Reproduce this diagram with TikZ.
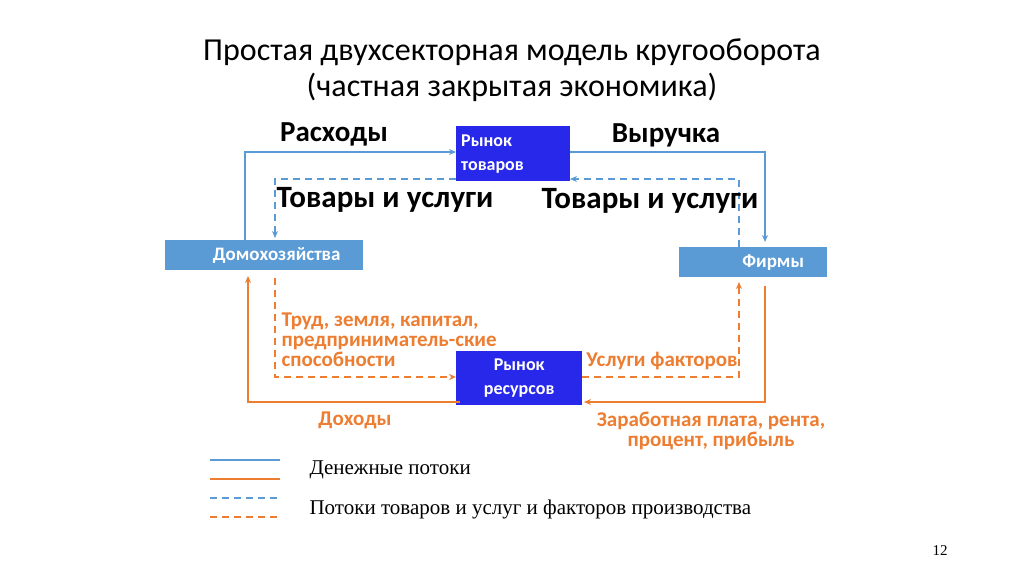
\documentclass[tikz,border=0pt]{standalone}
\usepackage{fontspec}
\setmainfont{Carlito}
\newfontfamily\serifx{Liberation Serif}
\usetikzlibrary{arrows.meta}
\definecolor{lb}{RGB}{91,155,213}
\definecolor{db}{RGB}{40,40,235}
\definecolor{og}{RGB}{237,125,49}
\begin{document}
\begin{tikzpicture}[x=1pt,y=-1pt,
 boxl/.style={fill=lb,text=white,font=\fontsize{19}{21}\selectfont\bfseries,inner sep=0,anchor=north west},
 boxd/.style={fill=db,text=white,font=\fontsize{18}{24}\selectfont\bfseries,inner sep=0,anchor=north west,align=center},
 mline/.style={lb,line width=1.6pt,-{Stealth[length=7pt,width=6pt]}},
 mdash/.style={lb,line width=1.6pt,dash pattern=on 7pt off 5pt,-{Stealth[length=7pt,width=6pt]}},
 oline/.style={og,line width=1.6pt,-{Stealth[length=7pt,width=6pt]}},
 odash/.style={og,line width=1.6pt,dash pattern=on 7pt off 5pt,-{Stealth[length=7pt,width=6pt]}},
 blab/.style={font=\fontsize{29}{32}\selectfont\bfseries},
 blab2/.style={font=\fontsize{31}{34}\selectfont\bfseries},
 olab/.style={text=og,font=\fontsize{21}{20}\selectfont\bfseries,align=left}]
\useasboundingbox[fill=white] (0,0) rectangle (1024,574);
\node[font=\fontsize{32}{36}\selectfont,align=center] (title) at (512,70) {Простая двухсекторная модель кругооборота\\(частная закрытая экономика)};
\node[boxd,minimum width=114pt,minimum height=55pt,align=left,text width=104pt] (rt) at (456,126) {Рынок\\товаров};
\node[boxl,minimum width=198pt,minimum height=30pt] (dh) at (165,240) {\hspace*{25pt}Домохозяйства};
\node[boxl,minimum width=148pt,minimum height=30pt] (fi) at (679,247) {\hspace*{40pt}Фирмы};
\node[boxd,minimum width=126pt,minimum height=54pt] (rr) at (456,351) {Рынок\\ресурсов};
\coordinate (a1) at (245,240); \coordinate (a2) at (245,152);
\coordinate (b1) at (570,152); \coordinate (b2) at (765,152); \coordinate (b3) at (765,242);
\coordinate (c1) at (739,247); \coordinate (c2) at (739,179); \coordinate (c3) at (570,179);
\coordinate (d1) at (456,179); \coordinate (d2) at (275,179); \coordinate (d3) at (275,238);
\coordinate (e1) at (275,278); \coordinate (e2) at (275,377); \coordinate (e3) at (456,377);
\coordinate (f1) at (582,377); \coordinate (f2) at (739,377); \coordinate (f3) at (739,282);
\coordinate (g1) at (765,286); \coordinate (g2) at (765,402); \coordinate (g3) at (584,402);
\coordinate (h1) at (460,402); \coordinate (h2) at (248,402); \coordinate (h3) at (248,276);
\draw[mline] (a1) -- (a2) -- (rt.west|-a2);
\draw[mline] (b1) -- (b2) -- (b3);
\draw[mdash] (c1) -- (c2) -- (c3);
\draw[mdash] (d1) -- (d2) -- (d3);
\draw[odash] (e1) -- (e2) -- (e3);
\draw[odash] (f1) -- (f2) -- (f3);
\draw[oline] (g1) -- (g2) -- (g3);
\draw[oline] (h1) -- (h2) -- (h3);
\node[blab] (l1) at (334,134) {Расходы};
\node[blab] (l2) at (666,135) {Выручка};
\node[blab2] (l3) at (385,200) {Товары и услуги};
\node[blab2] (l4) at (650,201) {Товары и услуги};
\node[olab,anchor=west] (l5) at (278,340) {Труд, земля, капитал,\\предприниматель-ские\\способности};
\node[olab] (l6) at (662,361) {Услуги факторов};
\node[olab] (l7) at (355,420) {Доходы};
\node[olab,align=center] (l8) at (711,431) {Заработная плата, рента,\\процент, прибыль};
\draw[lb,line width=1.6pt] (210,460) coordinate (k1) -- (280,460) coordinate (k2);
\draw[og,line width=1.6pt] (210,479) coordinate (k3) -- (280,479) coordinate (k4);
\draw[lb,line width=1.6pt,dash pattern=on 7pt off 5pt] (210,498) coordinate (k5) -- (280,498) coordinate (k6);
\draw[og,line width=1.6pt,dash pattern=on 7pt off 5pt] (210,517) coordinate (k7) -- (280,517) coordinate (k8);
\node[anchor=west,font=\serifx\fontsize{21}{24}\selectfont] (t1) at (306,470) {Денежные потоки};
\node[anchor=west,font=\serifx\fontsize{21}{24}\selectfont] (t2) at (306,509) {Потоки товаров и услуг и факторов производства};
\node[font=\serifx\fontsize{15}{17}\selectfont] (pg) at (940,551) {12};
\end{tikzpicture}
\end{document}
